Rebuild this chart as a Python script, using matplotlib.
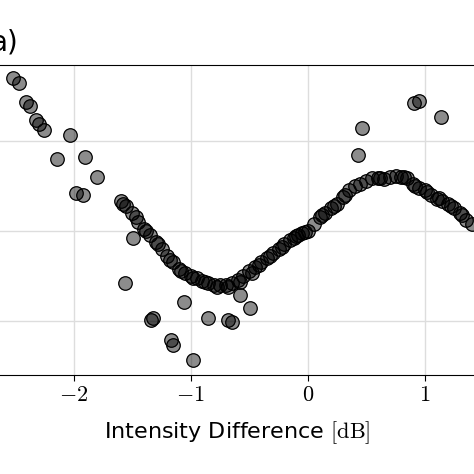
import matplotlib
matplotlib.use("Agg")
import matplotlib.pyplot as plt
plt.rcParams['mathtext.fontset'] = 'cm'

curve_x = [-1.6,-1.55,-1.5,-1.45,-1.4,-1.35,-1.3,-1.25,-1.2,-1.15,-1.1,-1.05,-1.0,-0.95,-0.9,-0.85,-0.8,-0.75,-0.7,-0.65,-0.6,-0.55,-0.5,-0.45,-0.4,-0.35,-0.3,-0.25,-0.2,-0.15,-0.1,-0.05,0.0,0.1,0.15,0.2,0.25,0.3,0.35,0.4,0.5,0.55,0.6,0.7,0.8,0.85,0.9,0.95,1.0,1.05,1.1,1.15,1.2,1.25,1.3,1.35,1.4]
curve_y = [0.33,0.28,0.2,0.1,0.02,-0.05,-0.12,-0.2,-0.28,-0.35,-0.42,-0.47,-0.5,-0.52,-0.56,-0.58,-0.6,-0.6,-0.6,-0.58,-0.55,-0.5,-0.45,-0.4,-0.35,-0.3,-0.25,-0.2,-0.15,-0.1,-0.06,-0.03,0.0,0.15,0.2,0.25,0.3,0.38,0.45,0.5,0.55,0.58,0.58,0.6,0.6,0.58,0.52,0.47,0.45,0.4,0.35,0.33,0.3,0.25,0.2,0.12,0.08]
curve2_x = [-1.58,-1.47,-1.38,-1.28,-1.18,-1.08,-0.98,-0.88,-0.78,-0.68,-0.58,-0.48,-0.42,-0.32,-0.22,-0.12,-0.08,-0.02,0.05,0.12,0.22,0.32,0.45,0.62,0.75,0.82,0.92,1.02,1.12,1.22,1.32]
curve2_y = [0.30,0.15,0.0,-0.15,-0.32,-0.45,-0.52,-0.57,-0.62,-0.62,-0.57,-0.47,-0.38,-0.28,-0.18,-0.08,-0.05,-0.01,0.08,0.17,0.27,0.40,0.52,0.59,0.61,0.6,0.5,0.43,0.36,0.28,0.17]
out_x = [-2.52,-2.47,-2.41,-2.37,-2.32,-2.30,-2.25,-2.14,-2.03,-1.98,-1.92,-1.90,-1.80,-1.56,-1.49,-1.34,-1.32,-1.17,-1.15,-1.06,-0.98,-0.85,-0.68,-0.65,-0.58,-0.49,0.46,0.43,0.91,0.95,1.14,0.65]
out_y = [1.70,1.64,1.43,1.38,1.23,1.18,1.12,0.80,1.06,0.42,0.40,0.82,0.60,-0.58,-0.08,-0.99,-0.97,-1.21,-1.27,-0.79,-1.43,-0.97,-0.99,-1.01,-0.71,-0.86,1.14,0.84,1.42,1.44,1.26,0.57]
xticks = [-2, -1, 0, 1]

fig = plt.figure(figsize=(4.74, 4.74), dpi=100)
ax = fig.add_axes([0.0, 0.209, 1.0, 0.654])
for xs, ys in [(curve_x, curve_y), (curve2_x, curve2_y), (out_x, out_y)]:
    ax.scatter(xs, ys, s=95, facecolor=(0, 0, 0, 0.45), edgecolor='black', linewidth=0.9, zorder=3)
ax.set_xlim(-2.63, 1.42)
ax.set_ylim(-1.6, 1.84)
ax.set_xticks(xticks)
ax.set_xticklabels([f"${t}$" if t >= 0 else f"$-{abs(t)}$" for t in xticks], fontsize=16)
ax.set_yticks([-1, 0, 1])
ax.tick_params(axis='y', left=False, labelleft=False)
ax.tick_params(axis='x', length=4)
ax.grid(True, color='#dddddd', linewidth=1)
ax.set_axisbelow(True)
for s in ['left', 'right']:
    ax.spines[s].set_visible(False)
ax.set_xlabel(r"Intensity Difference $[\mathrm{dB}]$", fontsize=16, labelpad=10)
fig.text(-0.02, 0.91, "a)", fontsize=20, va='center')
fig.savefig("out.png", dpi=100)
